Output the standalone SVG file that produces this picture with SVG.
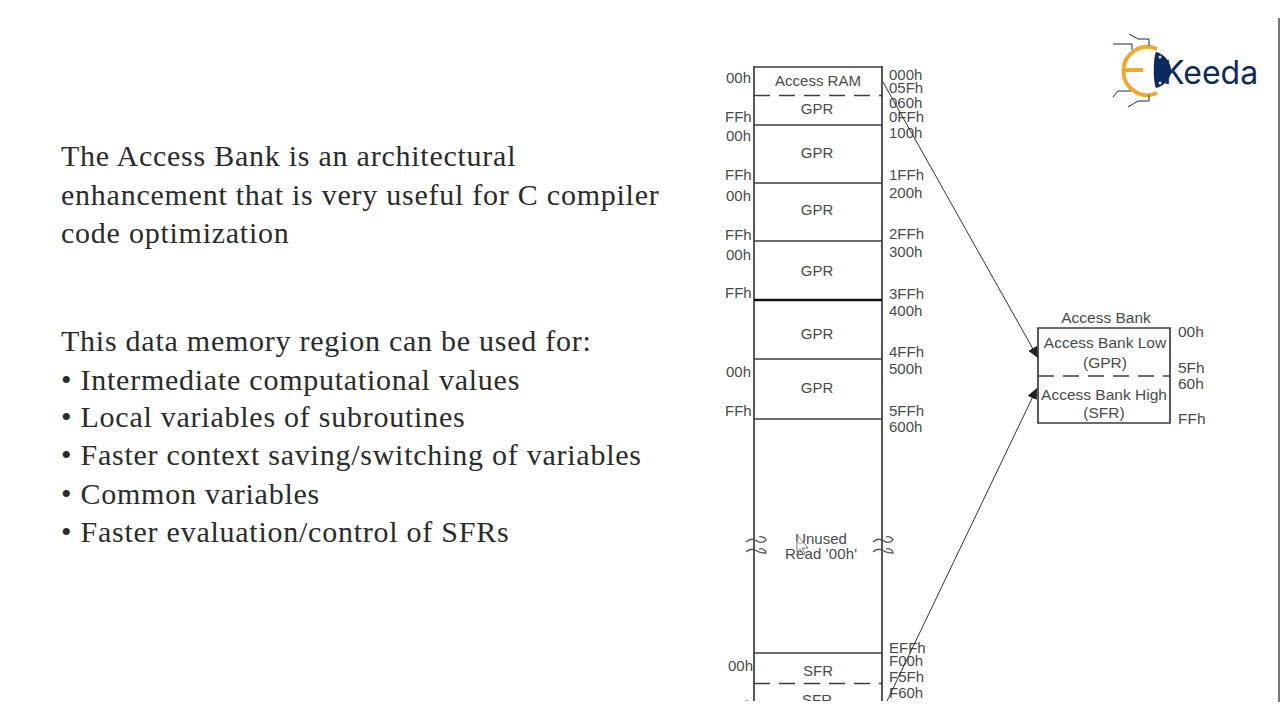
<svg xmlns="http://www.w3.org/2000/svg" width="1280" height="720" viewBox="0 0 1280 720">
<defs>
<marker id="ah" markerWidth="13" markerHeight="12" refX="11" refY="5" orient="auto" markerUnits="userSpaceOnUse"><path d="M0,0 L11,5 L0,10 Z" fill="#222"/></marker>
<clipPath id="cut"><rect x="700" y="0" width="300" height="701"/></clipPath>
</defs>
<style>
.body{font-family:"Liberation Serif",serif;font-size:30px;letter-spacing:.75px;fill:#2b2b2b}
.t{font-family:"Liberation Sans",sans-serif;font-size:15px;fill:#4a4a4a}
.b{font-size:15.500px}
.m{text-anchor:middle}
.l{fill:none;stroke:#3c3c3c;stroke-width:1.700}
.d{fill:none;stroke:#3c3c3c;stroke-width:1.700;stroke-dasharray:16 9}
.a{fill:none;stroke:#333;stroke-width:1}
.w{fill:none;stroke:#555;stroke-width:1.300}
</style>
<rect width="1280" height="720" fill="#fff"/>
<path d="M1279,18V702" stroke="#777" stroke-width="2"/>
<g id="text-intro" class="body">
<text x="61" y="166">The Access Bank is an architectural</text>
<text x="61" y="205">enhancement that is very useful for C compiler</text>
<text x="61" y="243">code optimization</text>
</g>
<g id="text-uses" class="body">
<text x="61" y="351">This data memory region can be used for:</text>
<text x="61" y="390">• Intermediate computational values</text>
<text x="61" y="427">• Local variables of subroutines</text>
<text x="61" y="465">• Faster context saving/switching of variables</text>
<text x="61" y="504">• Common variables</text>
<text x="61" y="542">• Faster evaluation/control of SFRs</text>
</g>
<g id="memory-map" clip-path="url(#cut)">
<path class="l" d="M754,66V701M882,66V701M754,67H882M754,125H882M754,183H882M754,241H882M754,359H882M754,419H882M754,653H882"/>
<path d="M754,300H882" fill="none" stroke="#111" stroke-width="2.400"/>
<path class="d" d="M754,95.500H882M754,683.500H882"/>
<path class="w" d="M746,542c4,-4 8,-3 11,-1s6,2 9,-1c0,-2 -4,-4 -7,-3M746,552c4,-4 8,-3 11,-1s6,2 9,2c0,-3 -4,-5 -7,-4M873,542c4,-4 8,-3 11,-1s6,2 9,-1c0,-2 -4,-4 -7,-3M873,552c4,-4 8,-3 11,-1s6,2 9,2c0,-3 -4,-5 -7,-4"/>
<g class="t">
<text class="m" x="818" y="86">Access RAM</text>
<text class="m" x="817" y="114">GPR</text>
<text class="m" x="817" y="158">GPR</text>
<text class="m" x="817" y="215">GPR</text>
<text class="m" x="817" y="276">GPR</text>
<text class="m" x="817" y="339">GPR</text>
<text class="m" x="817" y="393">GPR</text>
<text class="m" x="821" y="544">Unused</text>
<text class="m" x="821" y="558.500" textLength="72">Read '00h'</text>
<text class="m" x="818" y="676">SFR</text>
<text class="m" x="817" y="705">SFR</text>
<text x="726" y="83">00h</text>
<text x="725" y="122">FFh</text>
<text x="726" y="141">00h</text>
<text x="725" y="180">FFh</text>
<text x="726" y="201">00h</text>
<text x="725" y="240">FFh</text>
<text x="726" y="260">00h</text>
<text x="725" y="298">FFh</text>
<text x="726" y="377">00h</text>
<text x="725" y="416">FFh</text>
<text x="728" y="671">00h</text>
<text x="727" y="711">FFh</text>
<text x="889" y="80">000h</text>
<text x="889" y="93">05Fh</text>
<text x="889" y="108">060h</text>
<text x="889" y="122">0FFh</text>
<text x="889" y="138">100h</text>
<text x="889" y="180">1FFh</text>
<text x="889" y="198">200h</text>
<text x="889" y="239">2FFh</text>
<text x="889" y="257">300h</text>
<text x="889" y="299">3FFh</text>
<text x="889" y="316">400h</text>
<text x="889" y="357">4FFh</text>
<text x="889" y="374">500h</text>
<text x="889" y="416">5FFh</text>
<text x="889" y="432">600h</text>
<text x="889" y="653">EFFh</text>
<text x="889" y="666">F00h</text>
<text x="889" y="682">F5Fh</text>
<text x="889" y="698">F60h</text>
</g>
<path d="M797,535V552l3,-3l3,6l2,-1l-3,-6l6,0z" fill="#fff" fill-opacity=".6" stroke="#555" stroke-width=".8"/>
</g>
<g id="access-bank">
<path class="l" d="M1038,328H1170V423H1038Z"/>
<path class="d" d="M1038,376H1170"/>
<g class="t b">
<text class="m" x="1106" y="323">Access Bank</text>
<text class="m" x="1105" y="348">Access Bank Low</text>
<text class="m" x="1105" y="368">(GPR)</text>
<text class="m" x="1104" y="400">Access Bank High</text>
<text class="m" x="1104" y="418">(SFR)</text>
<text x="1178" y="337">00h</text>
<text x="1178" y="373">5Fh</text>
<text x="1178" y="389">60h</text>
<text x="1178" y="424">FFh</text>
</g>
</g>
<g id="connectors">
<path class="a" d="M883,82L1038,358" marker-end="url(#ah)"/>
<path class="a" d="M887,701L1037,388" marker-end="url(#ah)"/>
</g>
<g id="logo">
<text x="1163" y="84" style="font-family:Inter,'Liberation Sans',sans-serif;font-size:32px;fill:#0c2a5b">Keeda</text>
<path d="M1157,49A24,24 0 1 0 1157,93M1124,70H1143" fill="none" stroke="#f0a830" stroke-width="4"/>
<path d="M1156,52C1165,54 1171,63 1171,70C1171,78 1165,86 1156,88C1153,82 1153,58 1156,52Z" fill="#0c2a5b"/>
<circle cx="1160" cy="57" r="1.500" fill="#ddd"/><circle cx="1160" cy="83" r="1.500" fill="#ddd"/>
<path d="M1129,34L1138,39H1149V46M1113,44H1132V50M1113,97L1118,91H1131M1128,107L1138,101H1149V95" fill="none" stroke="#1c2a44" stroke-width="1"/>
</g>
</svg>
